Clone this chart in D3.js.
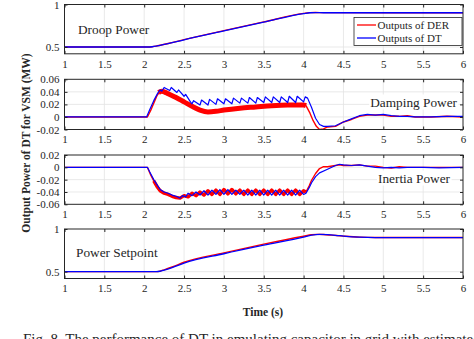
<!DOCTYPE html>
<html><head><meta charset="utf-8">
<script src="https://cdn.jsdelivr.net/npm/d3@7"></script>
<style>
html,body{margin:0;padding:0;background:#fff;}
svg{display:block;}
text{font-family:"Liberation Serif","Times New Roman",serif;fill:#262626;}
</style></head>
<body>
<svg id="chart" width="474" height="339"></svg>
<script>
// ---------- data ----------
const xTicks = [1,1.5,2,2.5,3,3.5,4,4.5,5,5.5,6];
const xTickLabels = ["1","1.5","2","2.5","3","3.5","4","4.5","5","5.5","6"];
const powerTicks = [0.5,1];
const powerTickLabels = ["0.5","1"];
const dampTicks = [-0.02,0,0.02,0.04,0.06];
const dampTickLabels = ["-0.02","0","0.02","0.04","0.06"];
const inerTicks = [-0.06,-0.04,-0.02,0,0.02];
const inerTickLabels = ["-0.06","-0.04","-0.02","0","0.02"];
const seriesNames = ["Outputs of DER","Outputs of DT"];
const panelTitles = ["Droop Power","Damping Power","Inertia Power","Power Setpoint"];

const droopDER = [[1,0.5],[2.05,0.5],[2.1,0.503],[2.15,0.51],[2.2,0.52],[2.3,0.541],[2.5,0.587],[3,0.692],[3.5,0.795],[4,0.895],[4.08,0.904],[4.15,0.906],[4.25,0.904],[6,0.903]];
const droopDT  = [[1,0.5],[2.05,0.5],[2.1,0.503],[2.15,0.51],[2.2,0.52],[2.3,0.54],[2.5,0.585],[3,0.69],[3.5,0.793],[4,0.893],[4.08,0.903],[4.15,0.905],[4.25,0.903],[6,0.903]];

const dampDER = [[1,0],[2.04,0],[2.08,0.01],[2.12,0.022],[2.16,0.034],[2.2,0.041],[2.25,0.04],[2.3,0.037],[2.4,0.031],[2.5,0.024],[2.6,0.017],[2.7,0.011],[2.8,0.008],[2.9,0.009],[3.0,0.011],[3.2,0.014],[3.4,0.016],[3.6,0.018],[3.8,0.019],[4.0,0.019],[4.03,0.018],[4.08,0.006],[4.12,-0.006],[4.16,-0.015],[4.2,-0.02],[4.25,-0.019],[4.3,-0.016],[4.4,-0.015],[4.5,-0.008],[4.6,-0.004],[4.7,0.001],[4.8,0.003],[4.9,0.003],[5.0,0.003],[5.1,0.001],[5.2,0.001],[5.3,0.002],[5.4,0.0],[5.6,0.0],[5.8,0.001],[6,0.0]];
const dampDERband = [[2.18,0.039],[2.22,0.041],[2.25,0.04],[2.3,0.037],[2.4,0.031],[2.5,0.024],[2.6,0.017],[2.7,0.011],[2.8,0.008],[2.9,0.009],[3.0,0.011],[3.2,0.014],[3.4,0.016],[3.6,0.018],[3.8,0.019],[4.0,0.019],[4.03,0.018]];
const dampDT = [[1,0],[2.03,0],[2.07,0.012],[2.12,0.026],[2.17,0.038],[2.2,0.043],[2.22,0.041],[2.25,0.047],[2.32,0.042],[2.34,0.047],[2.41,0.039],[2.43,0.043],[2.5,0.033],[2.52,0.036],[2.58,0.024],[2.6,0.021],[2.62,0.026],[2.7,0.019],[2.72,0.027],[2.8,0.019],[2.82,0.028],[2.9,0.020],[2.92,0.029],[3.0,0.021],[3.02,0.029],[3.1,0.021],[3.12,0.030],[3.2,0.022],[3.22,0.030],[3.3,0.022],[3.32,0.031],[3.4,0.022],[3.42,0.031],[3.5,0.023],[3.52,0.032],[3.6,0.023],[3.62,0.032],[3.7,0.023],[3.72,0.032],[3.8,0.023],[3.82,0.033],[3.9,0.023],[3.92,0.033],[4.0,0.024],[4.02,0.032],[4.05,0.03],[4.1,0.015],[4.15,-0.002],[4.2,-0.012],[4.25,-0.015],[4.3,-0.015],[4.4,-0.014],[4.5,-0.008],[4.6,-0.003],[4.7,0.002],[4.8,0.004],[4.9,0.003],[5.0,0.004],[5.1,0.002],[5.2,0.001],[5.3,0.001],[5.4,0],[5.6,0],[5.8,0.001],[6,0.001]];

const inerDER = [[1,0],[2.04,0],[2.08,-0.012],[2.12,-0.022],[2.16,-0.031],[2.2,-0.038],[2.25,-0.042],[2.3,-0.044],[2.35,-0.047],[2.4,-0.049],[2.45,-0.05],[2.5,-0.046],[2.55,-0.048],[2.6,-0.042],[2.65,-0.046],[2.7,-0.04],[2.75,-0.045],[2.8,-0.038],[2.85,-0.044],[2.9,-0.037],[2.95,-0.044],[3.0,-0.036],[3.05,-0.043],[3.1,-0.036],[3.15,-0.043],[3.2,-0.037],[3.25,-0.044],[3.3,-0.037],[3.35,-0.044],[3.4,-0.037],[3.45,-0.044],[3.5,-0.037],[3.55,-0.044],[3.6,-0.037],[3.65,-0.044],[3.7,-0.037],[3.75,-0.044],[3.8,-0.037],[3.85,-0.044],[3.9,-0.037],[3.95,-0.044],[4.0,-0.038],[4.03,-0.04],[4.07,-0.03],[4.1,-0.021],[4.15,-0.01],[4.2,-0.002],[4.25,0.001],[4.3,0.001],[4.4,0.003],[4.45,0.004],[4.5,0.003],[4.6,0.003],[4.7,0.004],[4.8,0.002],[4.9,0.002],[5.0,0],[5.1,-0.001],[5.2,0.001],[5.3,0],[5.5,0],[5.7,0],[6,0]];
const inerDERband = [[2.12,-0.022],[2.16,-0.031],[2.2,-0.038],[2.25,-0.042],[2.3,-0.044],[2.35,-0.047],[2.4,-0.049],[2.45,-0.05],[2.5,-0.046],[2.55,-0.048],[2.6,-0.042],[2.65,-0.046],[2.7,-0.04],[2.75,-0.045],[2.8,-0.038],[2.85,-0.044],[2.9,-0.037],[2.95,-0.044],[3.0,-0.036],[3.05,-0.043],[3.1,-0.036],[3.15,-0.043],[3.2,-0.037],[3.25,-0.044],[3.3,-0.037],[3.35,-0.044],[3.4,-0.037],[3.45,-0.044],[3.5,-0.037],[3.55,-0.044],[3.6,-0.037],[3.65,-0.044],[3.7,-0.037],[3.75,-0.044],[3.8,-0.037],[3.85,-0.044],[3.9,-0.037],[3.95,-0.044],[4.0,-0.038],[4.03,-0.04]];
const inerDT = [[1,0],[2.04,0],[2.08,-0.01],[2.12,-0.02],[2.16,-0.028],[2.2,-0.036],[2.25,-0.04],[2.3,-0.042],[2.35,-0.045],[2.4,-0.047],[2.45,-0.05],[2.48,-0.046],[2.52,-0.048],[2.55,-0.042],[2.6,-0.046],[2.65,-0.04],[2.7,-0.045],[2.75,-0.038],[2.8,-0.045],[2.85,-0.037],[2.9,-0.044],[2.95,-0.036],[3.0,-0.044],[3.05,-0.036],[3.1,-0.044],[3.15,-0.037],[3.2,-0.044],[3.25,-0.037],[3.3,-0.045],[3.35,-0.037],[3.4,-0.045],[3.45,-0.037],[3.5,-0.045],[3.55,-0.037],[3.6,-0.045],[3.65,-0.037],[3.7,-0.045],[3.75,-0.037],[3.8,-0.045],[3.85,-0.037],[3.9,-0.045],[3.95,-0.037],[4.0,-0.044],[4.03,-0.042],[4.07,-0.033],[4.1,-0.025],[4.15,-0.015],[4.2,-0.009],[4.3,-0.003],[4.4,0.003],[4.45,0.005],[4.5,0.004],[4.6,0.003],[4.7,0.004],[4.8,0.002],[4.9,0],[5.0,-0.001],[5.1,0],[5.2,-0.001],[5.3,0],[5.5,0],[5.7,-0.001],[6,0]];

const setDER = [[1,0.5],[2.15,0.5],[2.2,0.507],[2.25,0.522],[2.35,0.555],[2.5,0.61],[3,0.72],[3.5,0.822],[4,0.915],[4.1,0.932],[4.17,0.937],[4.25,0.935],[4.35,0.928],[4.5,0.917],[4.7,0.905],[4.9,0.9],[6,0.9]];
const setDT  = [[1,0.5],[2.15,0.5],[2.2,0.505],[2.25,0.518],[2.35,0.548],[2.5,0.6],[3,0.71],[3.5,0.81],[4,0.905],[4.1,0.927],[4.2,0.936],[4.3,0.933],[4.4,0.926],[4.5,0.917],[4.7,0.904],[4.9,0.9],[6,0.9]];

// ---------- layout ----------
const svg = d3.select("#chart");
const x = d3.scaleLinear().domain([1,6]).range([64.5,463]);
const RED = "#ff0000", BLUE = "#0000ff", AX = "#262626";

const panels = [
  {dom:[0.42,1], rng:[53.8,4.5], ticks:powerTicks, labels:powerTickLabels,
   series:[{d:droopDER,c:RED,w:1.4,curve:d3.curveMonotoneX},{d:droopDT,c:BLUE,w:1.3,curve:d3.curveMonotoneX}],
   title:{t:panelTitles[0],x:78,y:33.5,anchor:"start"}},
  {dom:[-0.02,0.06], rng:[129.5,79.3], ticks:dampTicks, labels:dampTickLabels,
   series:[{d:dampDER,c:RED,w:1.4,curve:d3.curveLinear},{d:dampDERband,c:RED,w:5,curve:d3.curveMonotoneX},{d:dampDT,c:BLUE,w:1.2,curve:d3.curveLinear}],
   title:{t:panelTitles[1],x:457,y:106.5,anchor:"end",bg:true}},
  {dom:[-0.06,0.02], rng:[204.3,155], ticks:inerTicks, labels:inerTickLabels,
   series:[{d:inerDER,c:RED,w:1.4,curve:d3.curveLinear},{d:inerDERband,c:RED,w:3.4,curve:d3.curveLinear},{d:inerDT,c:BLUE,w:1.2,curve:d3.curveLinear}],
   title:{t:panelTitles[2],x:450,y:182.5,anchor:"end",bg:true}},
  {dom:[0.42,1], rng:[278.5,229], ticks:powerTicks, labels:powerTickLabels,
   series:[{d:setDER,c:RED,w:1.4,curve:d3.curveMonotoneX},{d:setDT,c:BLUE,w:1.3,curve:d3.curveMonotoneX}],
   title:{t:panelTitles[3],x:76,y:257,anchor:"start"}}
];

panels.forEach((p,i)=>{
  const y = d3.scaleLinear().domain(p.dom).range(p.rng);
  const top = p.rng[1], bot = p.rng[0], left = x.range()[0], right = x.range()[1];
  const g = svg.append("g");
  const clipId = "clip"+i;
  svg.append("clipPath").attr("id",clipId).append("rect")
     .attr("x",left).attr("y",top).attr("width",right-left).attr("height",bot-top);
  // grid
  const grid = g.append("g").attr("stroke","#e3e3e3").attr("stroke-width",0.8);
  xTicks.forEach(t=>{ if(t>1&&t<6) grid.append("line").attr("x1",x(t)).attr("x2",x(t)).attr("y1",top).attr("y2",bot); });
  p.ticks.forEach(t=>{ const yy=y(t); if(yy>top+0.5&&yy<bot-0.5) grid.append("line").attr("x1",left).attr("x2",right).attr("y1",yy).attr("y2",yy); });
  // series
  const sg = g.append("g").attr("clip-path",`url(#${clipId})`);
  p.series.forEach(s=>{
    const line = d3.line().x(d=>x(d[0])).y(d=>y(d[1])).curve(s.curve);
    sg.append("path").attr("d",line(s.d)).attr("fill","none").attr("stroke",s.c)
      .attr("stroke-width",s.w).attr("stroke-linejoin","round");
  });
  // title
  const tt = g.append("text").attr("x",p.title.x).attr("y",p.title.y).attr("text-anchor",p.title.anchor)
     .style("font-size","13.3px").text(p.title.t);
  if(p.title.bg){
    const bb = tt.node().getBBox();
    g.insert("rect", "text").attr("x",bb.x-1).attr("y",bb.y).attr("width",bb.width+2).attr("height",bb.height).attr("fill","#fff");
  }
  // axes with inward ticks on all sides
  const xb = d3.axisBottom(x).tickValues(xTicks).tickSizeInner(-3).tickSizeOuter(0).tickPadding(6).tickFormat((d,k)=>xTickLabels[k]);
  const xt = d3.axisTop(x).tickValues(xTicks).tickSizeInner(-3).tickSizeOuter(0).tickFormat("");
  const yl = d3.axisLeft(y).tickValues(p.ticks).tickSizeInner(-3).tickSizeOuter(0).tickPadding(5).tickFormat((d,k)=>p.labels[k]);
  const yr = d3.axisRight(y).tickValues(p.ticks).tickSizeInner(-3).tickSizeOuter(0).tickFormat("");
  const ax = [
    g.append("g").attr("transform",`translate(0,${bot})`).call(xb),
    g.append("g").attr("transform",`translate(0,${top})`).call(xt),
    g.append("g").attr("transform",`translate(${left},0)`).call(yl),
    g.append("g").attr("transform",`translate(${right},0)`).call(yr)
  ];
  ax.forEach(a=>{
    a.select(".domain").remove();
    a.selectAll("line").attr("stroke",AX).attr("stroke-width",1);
    a.selectAll("text").style("font-size","11px").style("font-family",'"Liberation Serif","Times New Roman",serif').attr("fill",AX);
  });
  g.append("rect").attr("x",left).attr("y",top).attr("width",right-left).attr("height",bot-top)
   .attr("fill","none").attr("stroke",AX).attr("stroke-width",1);
});

// legend
const lg = svg.append("g");
lg.append("rect").attr("x",354).attr("y",17.5).attr("width",108).attr("height",28)
  .attr("fill","#fff").attr("stroke",AX).attr("stroke-width",0.8);
[[RED,25],[BLUE,38]].forEach((e,k)=>{
  lg.append("line").attr("x1",357).attr("x2",376).attr("y1",e[1]).attr("y2",e[1]).attr("stroke",e[0]).attr("stroke-width",1.3);
  lg.append("text").attr("x",377.5).attr("y",e[1]+3.8).style("font-size","11px").text(seriesNames[k]);
});

// axis titles
svg.append("text").attr("transform","translate(30,143) rotate(-90)").attr("text-anchor","middle")
  .style("font-size","11.5px").style("font-weight","bold").text("Output Power of DT for VSM (MW)");
svg.append("text").attr("x",263).attr("y",316).attr("text-anchor","middle")
  .style("font-size","11.5px").style("font-weight","bold").text("Time (s)");

// caption (cut off at bottom edge, as in the reference)
svg.append("text").attr("x",23).attr("y",343.5).style("font-size","15px").attr("fill","#222")
  .text("Fig. 8. The performance of DT in emulating capacitor in grid with estimated D");
</script>
</body></html>
